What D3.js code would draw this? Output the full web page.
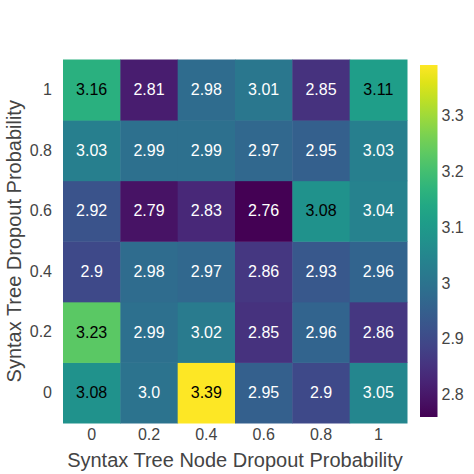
<!DOCTYPE html>
<html>
<head>
<meta charset="utf-8">
<script src="https://cdn.jsdelivr.net/npm/d3@7"></script>
<style>
  html, body { margin: 0; padding: 0; background: #fff; }
  svg text { font-family: "Liberation Sans", Arial, sans-serif; }
</style>
</head>
<body>
<svg id="chart" width="474" height="474"></svg>
<script>
(function() {
    // x: node dropout, y: tree dropout (bottom to top)
    const xCats = ["0", "0.2", "0.4", "0.6", "0.8", "1"];
    const yCats = ["0", "0.2", "0.4", "0.6", "0.8", "1"];

    // rows listed by y category, same order as yCats
    const row0   = [3.08, 3.0, 3.39, 2.95, 2.9, 3.05];
    const row02  = [3.23, 2.99, 3.02, 2.85, 2.96, 2.86];
    const row04  = [2.9, 2.98, 2.97, 2.86, 2.93, 2.96];
    const row06  = [2.92, 2.79, 2.83, 2.76, 3.08, 3.04];
    const row08  = [3.03, 2.99, 2.99, 2.97, 2.95, 3.03];
    const row1   = [3.16, 2.81, 2.98, 3.01, 2.85, 3.11];
    const rows = [row0, row02, row04, row06, row08, row1];

    // cell labels as printed (the 3.0 cell keeps its trailing zero)
    const labels0 = ["3.08", "3.0", "3.39", "2.95", "2.9", "3.05"];

    const colorTicks = [2.8, 2.9, 3.0, 3.1, 3.2, 3.3];

    const svg = d3.select("#chart");
    const plot = { left: 63, right: 407, top: 59.5, bottom: 423 };
    const bar = { left: 420, width: 17.5, top: 65, bottom: 417 };
    const ink = "#444";

    const cells = [];
    rows.forEach((r, j) => r.forEach((v, i) => {
        const label = j === 0 ? labels0[i] : String(v);
        cells.push({ x: xCats[i], y: yCats[j], v: v, label: label });
    }));

    const allVals = cells.map(d => d.v);
    const vmin = d3.min(allVals), vmax = d3.max(allVals);

    const x = d3.scaleBand().domain(xCats).range([plot.left, plot.right]);
    const y = d3.scaleBand().domain(yCats).range([plot.bottom, plot.top]);
    const color = d3.scaleSequential(d3.interpolateViridis).domain([vmin, vmax]);

    // Heatmap cells
    const g = svg.append("g");
    g.selectAll("rect")
        .data(cells)
        .join("rect")
        .attr("x", d => x(d.x))
        .attr("y", d => y(d.y))
        .attr("width", x.bandwidth() + 0.5)
        .attr("height", y.bandwidth() + 0.5)
        .attr("fill", d => color(d.v));

    g.selectAll("text")
        .data(cells)
        .join("text")
        .attr("x", d => x(d.x) + x.bandwidth() / 2)
        .attr("y", d => y(d.y) + y.bandwidth() / 2)
        .attr("text-anchor", "middle")
        .attr("dominant-baseline", "central")
        .attr("font-size", 16)
        .attr("fill", d => d3.lab(color(d.v)).l > 52 ? "#000" : "#fff")
        .text(d => d.label);

    // Axes
    const xAxis = svg.append("g")
        .attr("transform", `translate(0,${plot.bottom})`)
        .call(d3.axisBottom(x).tickSize(0).tickPadding(6));
    const yAxis = svg.append("g")
        .attr("transform", `translate(${plot.left},0)`)
        .call(d3.axisLeft(y).tickSize(0).tickPadding(11));
    [xAxis, yAxis].forEach(a => {
        a.select(".domain").remove();
        a.selectAll("text").attr("font-size", 16).attr("fill", ink)
            .style("font-family", '"Liberation Sans", Arial, sans-serif');
    });

    svg.append("text")
        .attr("x", (plot.left + plot.right) / 2)
        .attr("y", 467)
        .attr("text-anchor", "middle")
        .attr("font-size", 20)
        .attr("fill", ink)
        .text("Syntax Tree Node Dropout Probability");

    svg.append("text")
        .attr("transform", `translate(21,${(plot.top + plot.bottom) / 2}) rotate(-90)`)
        .attr("text-anchor", "middle")
        .attr("font-size", 20)
        .attr("fill", ink)
        .text("Syntax Tree Dropout Probability");

    // Colorbar
    const cy = d3.scaleLinear().domain([vmin, vmax]).range([bar.bottom, bar.top]);
    const grad = svg.append("defs").append("linearGradient")
        .attr("id", "cbar")
        .attr("x1", 0).attr("y1", 1).attr("x2", 0).attr("y2", 0);
    d3.range(0, 1.0001, 0.05).forEach(t => {
        grad.append("stop")
            .attr("offset", t)
            .attr("stop-color", d3.interpolateViridis(t));
    });
    svg.append("rect")
        .attr("x", bar.left)
        .attr("y", bar.top)
        .attr("width", bar.width)
        .attr("height", bar.bottom - bar.top)
        .attr("fill", "url(#cbar)");

    const cAxis = svg.append("g")
        .attr("transform", `translate(${bar.left + bar.width},0)`)
        .call(d3.axisRight(cy).tickValues(colorTicks).tickSize(0).tickPadding(4)
            .tickFormat(d => String(+d.toFixed(2))));
    cAxis.select(".domain").remove();
    cAxis.selectAll("text").attr("font-size", 16).attr("fill", ink)
        .style("font-family", '"Liberation Sans", Arial, sans-serif');
})();
</script>
</body>
</html>
